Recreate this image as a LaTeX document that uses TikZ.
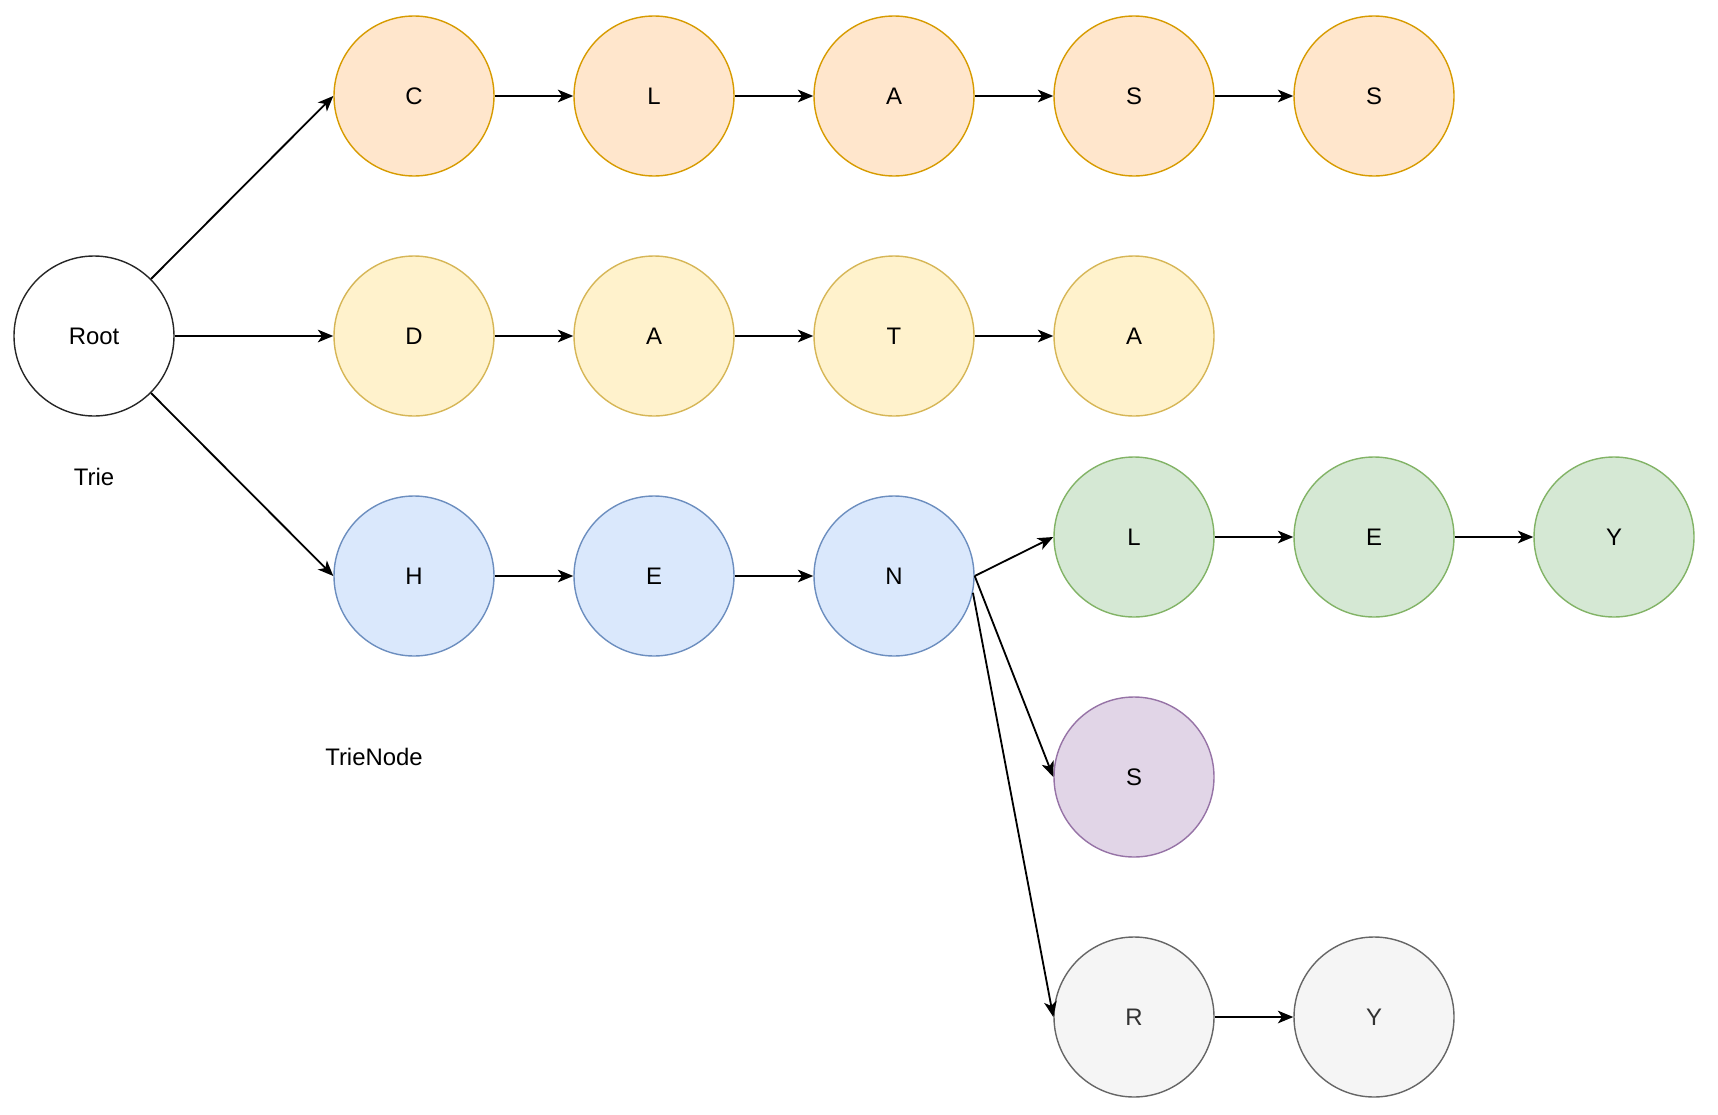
\documentclass[tikz,border=0pt]{standalone}
\usepackage{fontspec}
\setmainfont{Liberation Sans}
\usetikzlibrary{arrows.meta}

\definecolor{orangefill}{HTML}{FFE6CC}
\definecolor{orangeline}{HTML}{D79B00}
\definecolor{yellowfill}{HTML}{FFF2CC}
\definecolor{yellowline}{HTML}{D6B656}
\definecolor{bluefill}{HTML}{DAE8FC}
\definecolor{blueline}{HTML}{6C8EBF}
\definecolor{greenfill}{HTML}{D5E8D4}
\definecolor{greenline}{HTML}{82B366}
\definecolor{purplefill}{HTML}{E1D5E7}
\definecolor{purpleline}{HTML}{9673A6}
\definecolor{greyfill}{HTML}{F5F5F5}
\definecolor{greyline}{HTML}{666666}

\tikzset{
  letter/.style={circle, draw, line width=1pt, minimum size=4cm, inner sep=0pt,
    font=\fontsize{17}{20}\selectfont},
  orangenode/.style={letter, fill=orangefill, draw=orangeline},
  yellownode/.style={letter, fill=yellowfill, draw=yellowline},
  bluenode/.style={letter, fill=bluefill, draw=blueline},
  greennode/.style={letter, fill=greenfill, draw=greenline},
  purplenode/.style={letter, fill=purplefill, draw=purpleline},
  greynode/.style={letter, fill=greyfill, draw=greyline, text=black!80},
  link/.style={-{Stealth[length=11pt,width=9pt,inset=3pt]}, line width=1.3pt},
  caption/.style={font=\fontsize{17}{20}\selectfont}
}

\begin{document}
\begin{tikzpicture}
    \useasboundingbox (0,0) rectangle (42.95,-27.85);

    \node[letter, fill=white, draw=black!85] (root) at (2.35,-8.4) {Root};
    \node[caption] (trie) at (2.35,-11.925) {Trie};
    \node[caption] (trienode) at (9.35,-18.925) {TrieNode};

    % one row of circles per word, 6cm apart
    \foreach \ltr [count=\i] in {C,L,A,S,S}
      \node[orangenode] (c\i) at ({10.35+6*(\i-1)},-2.4) {\ltr};
    \foreach \ltr [count=\i] in {D,A,T,A}
      \node[yellownode] (d\i) at ({10.35+6*(\i-1)},-8.4) {\ltr};
    \foreach \ltr [count=\i] in {H,E,N}
      \node[bluenode] (h\i) at ({10.35+6*(\i-1)},-14.4) {\ltr};
    \foreach \ltr [count=\i] in {L,E,Y}
      \node[greennode] (l\i) at ({28.35+6*(\i-1)},-13.425) {\ltr};
    \node[purplenode] (s1) at (28.35,-19.425) {S};
    \foreach \ltr [count=\i] in {R,Y}
      \node[greynode] (r\i) at ({28.35+6*(\i-1)},-25.425) {\ltr};

    \draw[link] (root.45) -- (c1.west);
    \draw[link] (root.east) -- (d1.west);
    \draw[link] (root.-45) -- (h1.west);

    \foreach \a/\b in {c1/c2,c2/c3,c3/c4,c4/c5,d1/d2,d2/d3,d3/d4,h1/h2,h2/h3,l1/l2,l2/l3,r1/r2}
      \draw[link] (\a.east) -- (\b.west);

    \draw[link] (h3.east) -- (l1.west);
    \draw[link] (h3.east) -- (s1.west);
    \draw[link] (h3.-12) -- (r1.west);
\end{tikzpicture}
\end{document}
